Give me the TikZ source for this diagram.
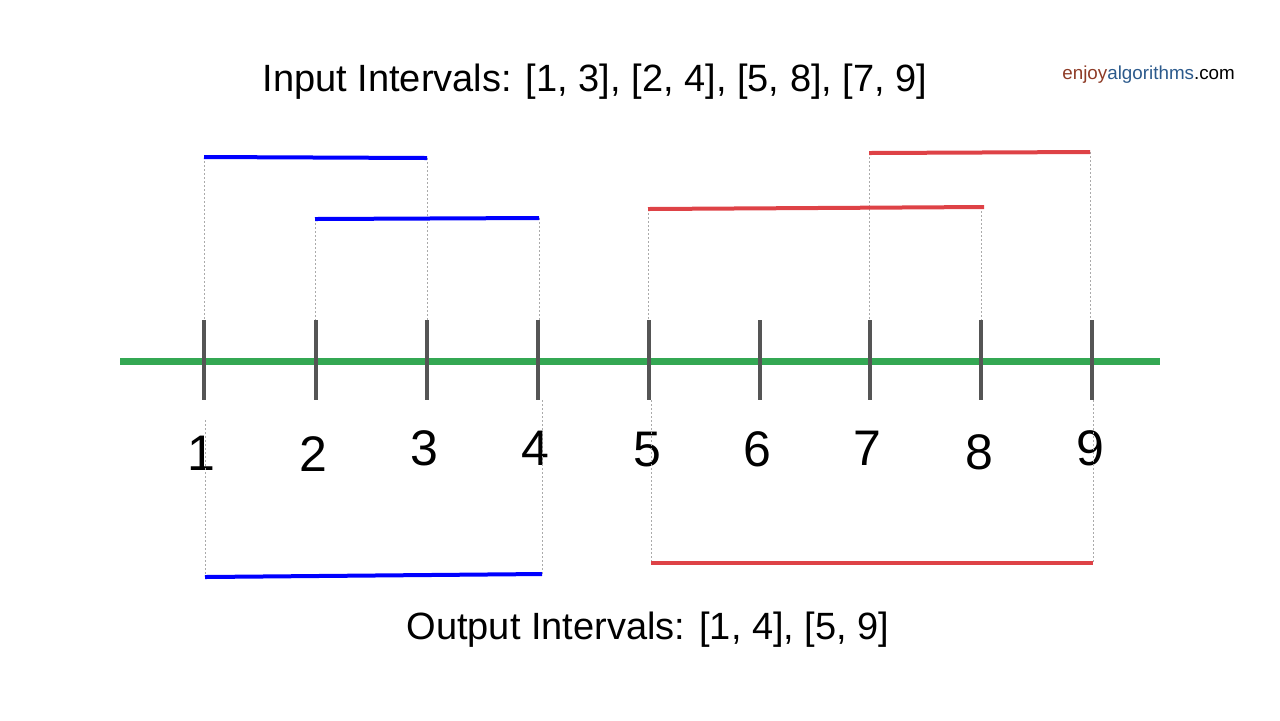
\documentclass[tikz,border=0pt]{standalone}
\usepackage{fontspec}
\setmainfont{Liberation Sans}
\definecolor{lineblue}{HTML}{0000FF}
\definecolor{linered}{HTML}{DE4246}
\definecolor{axisgreen}{HTML}{34A853}
\definecolor{tickgray}{HTML}{555555}
\definecolor{dotgray}{HTML}{AAAAAA}
\definecolor{logored}{HTML}{8E3B26}
\definecolor{logoblue}{HTML}{2C5A8C}
\tikzset{
  axis/.style={draw=axisgreen, line width=3.5pt},
  tickmark/.style={draw=tickgray, line width=2pt},
  guide/.style={draw=dotgray, line width=0.5pt, dash pattern=on 1pt off 1pt},
  bluebar/.style={draw=lineblue, line width=2pt},
  redbar/.style={draw=linered, line width=2pt},
  numlabel/.style={anchor=base, inner sep=0pt, font=\fontsize{25}{30}\selectfont},
  titletext/.style={anchor=base, inner sep=0pt, font=\fontsize{19}{23}\selectfont},
}
\begin{document}
\begin{tikzpicture}[x=0.5pt, y=-0.5pt]
\useasboundingbox (0,0) rectangle (1280,720);
% axis
\coordinate (axL) at (120,361);
\coordinate (axR) at (1160,361);
\draw[axis] (axL) -- (axR);
% ticks
\foreach \i/\x in {1/204,2/316,3/427,4/538,5/649,6/760,7/870,8/981,9/1092}{
  \coordinate (tt\i) at (\x,320);
  \coordinate (tb\i) at (\x,400);
  \draw[tickmark] (tt\i) -- (tb\i);
}
\coordinate (lowref) at (0,420);
% number labels
\node[numlabel] (n1) at (201,470) {1};
\node[numlabel] (n2) at (313,471) {2};
\node[numlabel] (n3) at (424,465) {3};
\node[numlabel] (n4) at (535,465) {4};
\node[numlabel] (n5) at (647,466) {5};
\node[numlabel] (n6) at (757,466) {6};
\node[numlabel] (n7) at (867,465) {7};
\node[numlabel] (n8) at (979,469) {8};
\node[numlabel] (n9) at (1090,465) {9};
% input intervals
\coordinate (a1) at (204,157); \coordinate (a2) at (427,158);
\coordinate (b1) at (315,219); \coordinate (b2) at (539,218);
\coordinate (c1) at (648,209); \coordinate (c2) at (981,207);
\coordinate (d1) at (869,153); \coordinate (d2) at (1090,152);
\draw[guide] (a1) -- (a1 |- tt1);
\draw[guide] (a2) -- (a2 |- tt3);
\draw[guide] (b1) -- (b1 |- tt2);
\draw[guide] (b2) -- (b2 |- tt4);
\draw[guide] (c1) -- (c1 |- tt5);
\draw[guide] (c2) -- (c2 |- tt8);
\draw[guide] (d1) -- (d1 |- tt7);
\draw[guide] (d2) -- (d2 |- tt9);
\draw[bluebar] (a1) -- (a2);
\draw[bluebar] (b1) -- ++(224,-1);
\draw[redbar] (c1) -- ++(336,-2);
\draw[redbar] (d1) -- (d2);
% output intervals
\coordinate (e1) at (205,577); \coordinate (e2) at (542,574);
\coordinate (f1) at (651,563); \coordinate (f2) at (1093,563);
\draw[guide] (e1 |- lowref) -- (e1);
\draw[guide] (e2 |- tb4) -- (e2);
\draw[guide] (f1 |- tb5) -- (f1);
\draw[guide] (f2 |- tb9) -- (f2);
\draw[bluebar] (e1) -- (e2);
\draw[redbar] (f1) -- (f2);
% titles
\node[titletext] (title) at (595,91) {Input Intervals: [1, 3], [2, 4], [5, 8], [7, 9]};
\node[titletext] (outtitle) at (648,639) {Output Intervals: [1, 4], [5, 9]};
\node[anchor=base west, inner sep=0pt, font=\fontsize{9.4}{11}\selectfont] (logo) at (1062,79)
  {\textcolor{logored}{enjoy}\textcolor{logoblue}{algorithms}.com};
\end{tikzpicture}
\end{document}
